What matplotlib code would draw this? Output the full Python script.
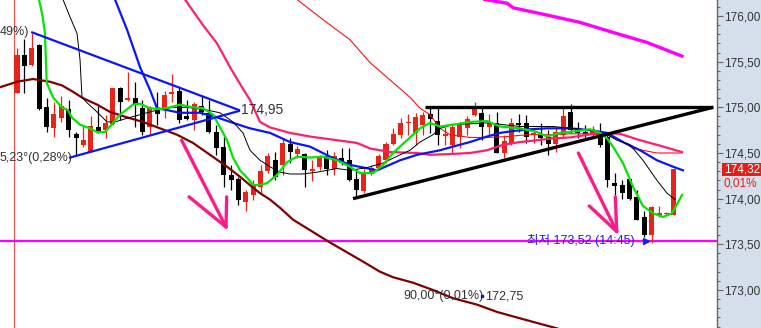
import matplotlib
matplotlib.use('Agg')
import matplotlib.pyplot as plt
from matplotlib.patches import Rectangle
from matplotlib.ticker import MultipleLocator, FixedLocator, FuncFormatter

# ---------------- data ----------------
opens = [175.16,175.57,175.46,175.68,175.00,174.77,174.88,174.98,174.71,174.59,
         174.51,174.78,174.75,174.82,175.21,175.08,175.10,174.99,174.79,174.97,
         174.97,175.15,175.18,174.91,174.86,175.01,174.94,174.73,174.57,174.26,
         174.22,173.96,174.04,174.13,174.30,174.42,174.37,174.60,174.49,174.49,
         174.30,174.35,174.47,174.33,174.44,174.42,174.21,174.08,174.27,174.34,
         174.42,174.60,174.70,174.83,174.72,174.81,174.93,174.85,174.69,174.59,
         174.68,174.77,174.92,174.94,174.79,174.83,174.50,174.61,174.83,174.83,
         174.70,174.70,174.67,174.60,174.70,174.95,174.75,174.73,174.70,174.73,
         174.68,174.17,174.15,174.22,174.02,173.80,173.60,173.82,173.83,173.82]
highs = [175.65,175.75,175.81,175.69,175.10,175.06,175.12,175.08,174.73,174.81,
         174.90,175.01,174.92,175.21,175.22,175.39,175.28,175.08,175.01,175.17,
         175.18,175.37,175.21,175.08,175.06,175.12,175.08,174.81,174.68,174.37,
         174.24,174.10,174.20,174.37,174.50,174.51,174.66,174.66,174.58,174.50,
         174.42,174.48,174.53,174.51,174.55,174.55,174.33,174.33,174.37,174.49,
         174.62,174.77,174.88,174.93,174.94,174.95,174.99,174.99,174.79,174.83,
         174.84,174.91,175.06,174.99,174.93,174.95,174.70,174.88,174.93,174.92,
         174.77,174.83,174.75,174.77,174.99,175.04,174.84,174.81,174.80,174.83,
         174.70,174.28,174.20,174.22,174.10,173.86,173.92,173.92,173.85,174.32]
lows = [175.16,175.16,175.45,174.97,174.73,174.68,174.84,174.68,174.48,174.57,
        174.51,174.72,174.66,174.81,174.86,175.07,174.79,174.70,174.70,174.81,
        174.88,175.06,174.83,174.86,174.75,174.92,174.72,174.48,174.13,174.10,
        173.93,173.86,173.99,174.06,174.28,174.20,174.26,174.39,174.45,174.13,
        174.19,174.31,174.26,174.26,174.37,174.19,174.02,174.06,174.26,174.31,
        174.39,174.59,174.66,174.70,174.59,174.70,174.72,174.59,174.59,174.50,
        174.55,174.70,174.90,174.64,174.70,174.50,174.45,174.59,174.73,174.61,
        174.61,174.59,174.48,174.51,174.68,174.72,174.66,174.64,174.67,174.57,
        174.13,174.04,174.00,173.99,173.77,173.58,173.52,173.80,173.82,173.82]
closes = [175.57,175.45,175.65,174.98,174.79,174.93,175.01,174.75,174.66,174.64,
          174.80,174.73,174.83,175.21,175.06,175.10,175.04,174.73,174.99,174.93,
          175.14,175.17,174.86,174.87,175.04,174.95,174.73,174.55,174.26,174.20,
          173.99,174.07,174.15,174.30,174.47,174.24,174.61,174.51,174.54,174.31,
          174.33,174.47,174.33,174.47,174.39,174.20,174.10,174.27,174.34,174.47,
          174.60,174.71,174.83,174.84,174.89,174.92,174.87,174.70,174.71,174.79,
          174.81,174.87,174.99,174.79,174.83,174.50,174.63,174.83,174.81,174.67,
          174.72,174.66,174.60,174.73,174.90,174.75,174.72,174.71,174.76,174.59,
          174.20,174.14,174.06,174.00,173.77,173.60,173.91,173.84,173.83,174.32]

# moving-average lines (bar index, price)
green_x = [2.98,3.48,3.79,4.02,4.88,6.06,6.91,7.41,8.54,9.89,10.80,11.92,13.01,13.96,15.72,16.67,
           18.02,19.38,20.73,22.09,23.71,25.20,26.56,27.51,28.46,29.27,30.22,31.17,31.98,32.93,
           33.88,35.23,36.59,37.94,39.70,41.46,43.36,45.12,46.48,48.24,49.59,50.95,52.85,54.61,
           55.96,57.32,59.08,61.38,63.69,65.45,68.16,70.46,71.82,73.58,74.93,77.64,79.0,79.95,
           80.76,82.11,83.47,84.82,86.18,87.53,88.75,89.57,90.11]
green_y = [176.18,175.99,175.81,175.27,175.11,175.00,174.97,174.89,174.81,174.77,174.73,174.73,
           174.83,174.92,175.03,175.04,174.99,174.98,175.00,175.03,175.00,174.99,174.92,174.78,
           174.64,174.45,174.31,174.23,174.15,174.15,174.17,174.26,174.40,174.46,174.45,174.46,
           174.42,174.35,174.28,174.28,174.37,174.50,174.64,174.77,174.83,174.79,174.81,174.84,
           174.85,174.79,174.77,174.73,174.68,174.72,174.73,174.76,174.72,174.66,174.57,174.39,
           174.13,173.92,173.84,173.80,173.84,173.96,174.04]

black_x = [6.23,7.18,8.13,8.54,8.81,9.49,10.84,12.20,13.28,14.91,16.67,18.97,21.14,23.04,25.75,
           27.51,29.27,30.62,31.57,32.93,34.28,35.64,36.99,38.75,40.65,43.36,45.12,47.43,49.59,
           51.90,53.25,54.61,56.37,57.32,59.08,63.69,68.16,72.63,77.64,79.95,81.30,83.06,84.82,
           86.72,88.08,89.16]
black_y = [176.18,175.99,175.81,175.52,175.11,175.05,174.95,174.84,174.84,174.88,174.92,174.97,
           175.00,175.00,174.97,174.94,174.84,174.72,174.53,174.42,174.35,174.29,174.27,174.27,
           174.29,174.33,174.31,174.34,174.39,174.48,174.53,174.62,174.70,174.77,174.81,174.83,
           174.79,174.79,174.75,174.70,174.64,174.59,174.42,174.20,174.06,173.99]

blue_x = [13.28,14.91,16.67,18.02,18.97,20.33,22.09,24.80,27.10,29.27,31.57,34.28,36.99,39.70,
          42.41,45.12,48.78,51.90,54.20,57.32,59.08,61.38,63.69,65.45,67.21,69.51,71.82,74.93,
          77.64,79.95,82.11,84.42,86.72,88.89,90.24]
blue_y = [176.18,175.85,175.44,175.19,174.99,174.97,174.94,174.94,174.89,174.83,174.77,174.72,
          174.62,174.57,174.46,174.37,174.31,174.42,174.48,174.53,174.57,174.62,174.68,174.72,
          174.74,174.76,174.77,174.77,174.75,174.72,174.62,174.53,174.42,174.35,174.31]

pink_x = [22.76,25.20,27.10,28.86,30.49,31.57,32.93,34.28,36.99,39.70,43.36,46.07,47.83,50.54,
          54.20,55.96,59.08,61.38,63.69,65.85,68.16,70.46,72.63,74.93,79.0,81.71,84.42,87.13,90.11]
pink_y = [176.18,175.90,175.70,175.44,175.22,175.08,174.84,174.78,174.72,174.68,174.64,174.61,
          174.55,174.51,174.50,174.48,174.49,174.50,174.53,174.59,174.62,174.64,174.66,174.67,
          174.72,174.71,174.64,174.58,174.51]

red_x = [37.94,41.46,45.12,47.83,50.54,53.25,54.61,55.96,57.32,58.67,61.38,63.69,66.40,69.11,
         72.63,74.93,77.64,80.35,81.30,83.47,86.72,90.11]
red_y = [176.18,175.96,175.74,175.49,175.30,175.11,174.99,174.92,174.77,174.70,174.67,174.67,
         174.68,174.70,174.70,174.71,174.71,174.69,174.66,174.55,174.50,174.50]

mag_x = [63.41,66.40,67.21,71.82,76.29,80.76,85.37,90.11]
mag_y = [176.18,176.14,176.09,176.01,175.93,175.82,175.71,175.56]

maroon_x = [-2.30,0,2.17,4.47,6.10,7.59,8.94,10.84,12.60,14.91,17.07,19.38,21.68,23.85,26.15,
            28.46,30.22,31.98,32.93,34.28,35.64,37.40,42.41,46.48,49.19,50.95,53.66,56.37,59.08,
            62.33,65.04,68.16,70.87,73.17]
maroon_y = [175.22,175.28,175.31,175.28,175.24,175.17,175.10,175.03,174.95,174.89,174.84,174.77,
            174.70,174.61,174.48,174.35,174.24,174.12,174.06,173.99,173.90,173.77,173.52,173.33,
            173.20,173.14,173.08,173.00,172.91,172.84,172.76,172.69,172.63,172.58]

# drawn objects
tri_upper = [(2.07, 175.82), (30.08, 174.97)]
tri_lower = [(7.18, 174.45), (30.08, 174.96)]
res_line = [(55.28, 175.00), (94.30, 175.00)]
sup_line = [(45.53, 174.00), (94.30, 175.00)]
arrow1 = [[(22.3, 174.64), (28.32, 173.69)], [(23.31, 174.02), (28.32, 173.69)],
          [(28.41, 174.02), (28.32, 173.69)]]
arrow2 = [[(76.06, 174.50), (81.26, 173.64)], [(77.55, 173.92), (81.26, 173.64)],
          [(81.07, 174.02), (81.26, 173.64)]]
low_level = 173.54
session_x = -0.37
last_price = 174.32
y_ticks = [173.0, 173.5, 174.0, 174.5, 175.0, 175.5, 176.0]

# ---------------- figure ----------------
W, H = 761, 328
fig = plt.figure(figsize=(W / 100, H / 100), dpi=100, facecolor='#d5dfeb')
ax = fig.add_axes([0, 0, 717 / W, 1])
ax.set_facecolor('white')
ax.set_xlim(-2.304, 94.85)
ax.set_ylim(172.584, 176.175)

FONT = ['Liberation Sans', 'Noto Sans CJK KR', 'DejaVu Sans']

# session line and low level
ax.axvline(session_x, color='#ff4a4a', lw=0.8, zorder=1)
ax.axhline(low_level, color='#ff00ff', lw=1.6, zorder=2)

# candles
RED = '#e8231a'
for i, (o, h, l, c) in enumerate(zip(opens, highs, lows, closes)):
    col = RED if c >= o else 'black'
    ax.vlines(i, l, h, color=col, lw=0.9, zorder=3)
    bot = min(o, c)
    hgt = max(abs(c - o), 0.012)
    ax.bar(i, hgt, bottom=bot, width=0.68, color=col, linewidth=0, zorder=3)

# MA lines
ax.plot(maroon_x, maroon_y, color='#800000', lw=1.6, zorder=4)
ax.plot(mag_x, mag_y, color='#ff00ff', lw=2.4, zorder=4)
ax.plot(red_x, red_y, color='#ff1010', lw=0.8, zorder=4)
ax.plot(pink_x, pink_y, color='#ff1f6e', lw=1.6, zorder=4)
ax.plot(blue_x, blue_y, color='#0a14ff', lw=1.6, zorder=5)
ax.plot(black_x, black_y, color='black', lw=0.7, zorder=5)
ax.plot(green_x, green_y, color='#00e600', lw=1.6, zorder=5)

# trend lines
for seg in (tri_upper, tri_lower):
    ax.plot([p[0] for p in seg], [p[1] for p in seg], color='#0a14ff', lw=1.6, zorder=6)
for seg in (res_line, sup_line):
    ax.plot([p[0] for p in seg], [p[1] for p in seg], color='black', lw=2.4,
            solid_capstyle='butt', zorder=6)
for arrow in (arrow1, arrow2):
    for seg in arrow:
        ax.plot([p[0] for p in seg], [p[1] for p in seg], color='#ff1a8c', lw=2.4,
                solid_capstyle='round', zorder=6)

# labels inside the plot
ax.text(30.4, 174.97, '174,95', fontsize=10, color='#333333', ha='left', va='center',
        family=FONT, zorder=7)
ax.text(0.0, 175.83, '49%)', fontsize=9, color='#333333', ha='left', va='center',
        family=FONT, zorder=7, transform=ax.get_yaxis_transform())
ax.text(0.0, 174.45, '5,23°(0,28%)', fontsize=9, color='#333333', ha='left', va='center',
        family=FONT, zorder=7, transform=ax.get_yaxis_transform())
ax.text(52.3, 172.93, '90,00°(0,01%)', fontsize=9, color='#333333', ha='left', va='center',
        family=FONT, zorder=7)
ax.plot([63.0], [172.93], marker='s', ms=1.5, color='#0a14ff', zorder=7)
ax.text(63.4, 172.93, '172,75', fontsize=9, color='#333333', ha='left', va='center',
        family=FONT, zorder=7)
ax.text(69.1, low_level, '최저 173,52 (14:45)', fontsize=9, color='#1a1aff', ha='left',
        va='center', family=FONT, zorder=7)
ax.plot([85.2], [low_level], marker='>', ms=5, color='#1a1aff', zorder=7)

# axis styling
for s in ('top', 'left', 'bottom'):
    ax.spines[s].set_visible(False)
ax.spines['right'].set_color('#666666')
ax.spines['right'].set_linewidth(1.0)
ax.set_xticks([])
ax.yaxis.tick_right()
ax.yaxis.set_major_locator(FixedLocator(y_ticks))
ax.yaxis.set_minor_locator(MultipleLocator(0.1))
ax.yaxis.set_major_formatter(FuncFormatter(lambda v, p: f'{v:.2f}'.replace('.', ',')))
ax.tick_params(axis='y', which='major', direction='out', length=4.2, width=0.8,
               color='#666666', labelsize=8.5, labelcolor='#333333', pad=0.8)
ax.tick_params(axis='y', which='minor', direction='out', length=2.2, width=0.8,
               color='#666666')
for lab in ax.get_yticklabels():
    lab.set_family(FONT)

# last price box (figure level, above the axes)
fig.patches.append(Rectangle((722 / W, (H - 176) / H), 39 / W, 13.5 / H,
                             transform=fig.transFigure, facecolor='#e31f1a',
                             edgecolor='none', zorder=5))
ytf = fig.transFigure.inverted()
_, yl = ytf.transform(ax.transData.transform((0, last_price)))
fig.text(724 / W, yl, f'{last_price:.2f}'.replace('.', ','), fontsize=8.5, color='white',
         ha='left', va='center', family=FONT, zorder=6)
fig.text(724 / W, yl - 14.5 / H, '0,01%', fontsize=8.5, color='#e31f1a',
         ha='left', va='center', family=FONT, zorder=6)

fig.savefig('out.png', dpi=100, facecolor=fig.get_facecolor())
